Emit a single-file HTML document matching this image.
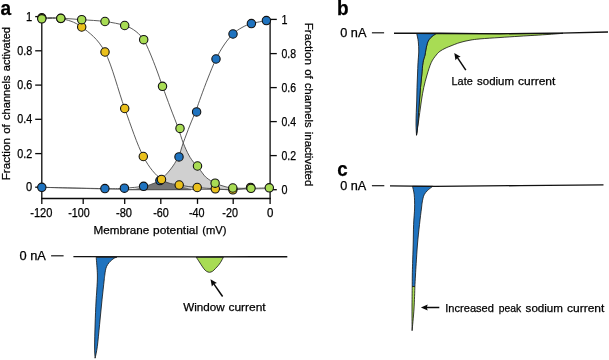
<!DOCTYPE html>
<html><head><meta charset="utf-8"><title>Figure</title>
<style>html,body{margin:0;padding:0;background:#fff}body{width:609px;height:360px;position:relative;overflow:hidden}</style></head>
<body>
<svg width="609" height="360" viewBox="0 0 609 360" style="position:absolute;left:0;top:0">
<rect width="609" height="360" fill="#fff"/>
<path d="M152.00,184.00 C153.32,183.37 156.90,182.53 159.90,180.20 C162.90,177.87 166.93,173.87 170.00,170.00 C173.07,166.13 176.10,161.50 178.30,157.00 C180.50,152.50 182.38,145.33 183.20,143.00 L183.20,143.00  C184.12,145.00 186.99,151.75 188.75,155.00 C190.51,158.25 192.29,160.58 193.75,162.50 C195.21,164.42 196.36,165.15 197.50,166.50 C198.64,167.85 199.14,168.77 200.60,170.60 C202.06,172.43 203.85,175.42 206.25,177.50 C208.65,179.58 212.04,181.63 215.00,183.10 C217.96,184.57 221.33,185.38 224.00,186.30 C226.67,187.22 229.83,188.22 231.00,188.60 L231,189.6 L152,189.6 Z" fill="#d0d0d0"/>
<path d="M128.00,189.40 C129.67,189.20 135.00,188.72 138.00,188.20 C141.00,187.68 143.33,187.12 146.00,186.30 C148.67,185.48 151.37,184.32 154.00,183.30 C156.63,182.28 159.13,180.22 161.80,180.20 C164.47,180.18 166.97,182.20 170.00,183.20 C173.03,184.20 176.50,185.27 180.00,186.20 C183.50,187.13 189.17,188.37 191.00,188.80 L191,190.2 L128,190.2 Z" fill="#767676"/>
<path d="M41.80,17.80 C44.97,17.92 54.15,16.97 60.80,18.50 C67.45,20.03 74.33,21.42 81.70,27.00 C89.07,32.58 97.83,38.42 105.00,52.00 C112.17,65.58 118.32,91.08 124.70,108.50 C131.08,125.92 137.17,144.67 143.30,156.50 C149.43,168.33 155.52,174.75 161.50,179.50 C167.48,184.25 173.25,183.67 179.20,185.00 C185.15,186.33 191.18,186.87 197.20,187.50 C203.22,188.13 209.35,188.42 215.30,188.80 C221.25,189.18 227.02,190.03 232.90,189.80 C238.78,189.57 247.65,187.80 250.60,187.40" fill="none" stroke="#4a4a4a" stroke-width="0.9"/>
<path d="M41.80,18.80 C44.97,18.72 54.15,18.15 60.80,18.30 C67.45,18.45 74.33,19.17 81.70,19.70 C89.07,20.23 97.83,20.53 105.00,21.50 C112.17,22.47 119.53,23.83 124.70,25.50 C129.87,27.17 132.83,29.08 136.00,31.50 C139.17,33.92 141.37,36.42 143.70,40.00 C146.03,43.58 147.83,48.00 150.00,53.00 C152.17,58.00 154.62,64.45 156.70,70.00 C158.78,75.55 160.20,79.97 162.50,86.30 C164.80,92.63 167.92,101.13 170.50,108.00 C173.08,114.87 175.88,121.68 178.00,127.50 C180.12,133.32 181.41,138.32 183.20,142.90 C184.99,147.48 186.99,151.73 188.75,155.00 C190.51,158.27 192.29,160.58 193.75,162.50 C195.21,164.42 196.36,165.15 197.50,166.50 C198.64,167.85 199.14,168.77 200.60,170.60 C202.06,172.43 203.85,175.42 206.25,177.50 C208.65,179.58 212.04,181.63 215.00,183.10 C217.96,184.57 221.03,185.48 224.00,186.30 C226.97,187.12 228.30,187.67 232.80,188.00 C237.30,188.33 244.92,188.33 251.00,188.30 C257.08,188.27 266.25,187.88 269.30,187.80" fill="none" stroke="#4a4a4a" stroke-width="0.9"/>
<path d="M41.80,187.30 C52.32,187.52 91.13,188.45 104.90,188.60 C118.67,188.75 117.95,188.58 124.40,188.20 C130.85,187.82 139.00,187.00 143.60,186.30 C148.20,185.60 149.28,185.02 152.00,184.00 C154.72,182.98 156.90,182.53 159.90,180.20 C162.90,177.87 166.93,173.87 170.00,170.00 C173.07,166.13 176.10,161.50 178.30,157.00 C180.50,152.50 181.25,148.33 183.20,143.00 C185.15,137.67 187.87,130.42 190.00,125.00 C192.13,119.58 194.17,115.25 196.00,110.50 C197.83,105.75 199.00,101.92 201.00,96.50 C203.00,91.08 205.50,84.25 208.00,78.00 C210.50,71.75 213.33,64.50 216.00,59.00 C218.67,53.50 221.17,49.17 224.00,45.00 C226.83,40.83 230.00,36.92 233.00,34.00 C236.00,31.08 238.93,29.23 242.00,27.50 C245.07,25.77 247.33,24.75 251.40,23.60 C255.47,22.45 263.90,21.10 266.40,20.60" fill="none" stroke="#4a4a4a" stroke-width="0.9"/>
<path d="M41.8,187.3 L128,189.6 L232,189.4 L269,188.6" fill="none" stroke="#4a4a4a" stroke-width="0.7"/>
<g stroke="#0a0a0a" stroke-width="1.3" fill="none">
<path d="M41.8,16 V203.9"/>
<path d="M41.2,198.5 H270.8"/>
<path d="M270.1,19 V203.9"/>
<path d="M83.2,198.5 V203.9"/>
<path d="M124.7,198.5 V203.9"/>
<path d="M160.8,198.5 V203.9"/>
<path d="M197.5,198.5 V203.9"/>
<path d="M233.2,198.5 V203.9"/>
<path d="M35.2,16.6 H41.8"/>
<path d="M35.2,50.8 H41.8"/>
<path d="M35.2,85.1 H41.8"/>
<path d="M35.2,119.3 H41.8"/>
<path d="M35.2,153.6 H41.8"/>
<path d="M35.2,187.2 H41.8"/>
<path d="M270.1,19.4 H276.8"/>
<path d="M270.1,53.6 H276.8"/>
<path d="M270.1,87.6 H276.8"/>
<path d="M270.1,121.6 H276.8"/>
<path d="M270.1,155.6 H276.8"/>
<path d="M270.1,189.7 H276.8"/>
</g>
<circle cx="41.8" cy="187.3" r="4.2" fill="#1f73bf" stroke="#111" stroke-width="1.1"/>
<circle cx="104.9" cy="188.6" r="4.2" fill="#1f73bf" stroke="#111" stroke-width="1.1"/>
<circle cx="124.4" cy="188.2" r="4.2" fill="#1f73bf" stroke="#111" stroke-width="1.1"/>
<circle cx="143.6" cy="186.3" r="4.2" fill="#1f73bf" stroke="#111" stroke-width="1.1"/>
<circle cx="159.9" cy="180.6" r="4.2" fill="#1f73bf" stroke="#111" stroke-width="1.1"/>
<circle cx="179.0" cy="156.9" r="4.2" fill="#1f73bf" stroke="#111" stroke-width="1.1"/>
<circle cx="196.6" cy="111.9" r="4.2" fill="#1f73bf" stroke="#111" stroke-width="1.1"/>
<circle cx="216.0" cy="59.0" r="4.2" fill="#1f73bf" stroke="#111" stroke-width="1.1"/>
<circle cx="233.0" cy="34.0" r="4.2" fill="#1f73bf" stroke="#111" stroke-width="1.1"/>
<circle cx="251.4" cy="23.6" r="4.2" fill="#1f73bf" stroke="#111" stroke-width="1.1"/>
<circle cx="266.4" cy="20.6" r="4.2" fill="#1f73bf" stroke="#111" stroke-width="1.1"/>
<circle cx="41.8" cy="17.8" r="4.2" fill="#eac01c" stroke="#111" stroke-width="1.1"/>
<circle cx="60.8" cy="18.5" r="4.2" fill="#eac01c" stroke="#111" stroke-width="1.1"/>
<circle cx="81.7" cy="27.0" r="4.2" fill="#eac01c" stroke="#111" stroke-width="1.1"/>
<circle cx="105.0" cy="52.0" r="4.2" fill="#eac01c" stroke="#111" stroke-width="1.1"/>
<circle cx="124.7" cy="108.5" r="4.2" fill="#eac01c" stroke="#111" stroke-width="1.1"/>
<circle cx="143.3" cy="156.5" r="4.2" fill="#eac01c" stroke="#111" stroke-width="1.1"/>
<circle cx="161.5" cy="179.5" r="4.2" fill="#eac01c" stroke="#111" stroke-width="1.1"/>
<circle cx="179.2" cy="185.0" r="4.2" fill="#eac01c" stroke="#111" stroke-width="1.1"/>
<circle cx="197.2" cy="187.5" r="4.2" fill="#eac01c" stroke="#111" stroke-width="1.1"/>
<circle cx="215.3" cy="188.8" r="4.2" fill="#eac01c" stroke="#111" stroke-width="1.1"/>
<circle cx="232.9" cy="189.8" r="4.2" fill="#eac01c" stroke="#111" stroke-width="1.1"/>
<circle cx="250.6" cy="187.4" r="4.2" fill="#eac01c" stroke="#111" stroke-width="1.1"/>
<circle cx="41.8" cy="18.8" r="4.2" fill="#a8dc54" stroke="#111" stroke-width="1.1"/>
<circle cx="60.8" cy="18.3" r="4.2" fill="#a8dc54" stroke="#111" stroke-width="1.1"/>
<circle cx="81.7" cy="19.7" r="4.2" fill="#a8dc54" stroke="#111" stroke-width="1.1"/>
<circle cx="105.0" cy="21.5" r="4.2" fill="#a8dc54" stroke="#111" stroke-width="1.1"/>
<circle cx="124.7" cy="25.5" r="4.2" fill="#a8dc54" stroke="#111" stroke-width="1.1"/>
<circle cx="143.7" cy="39.7" r="4.2" fill="#a8dc54" stroke="#111" stroke-width="1.1"/>
<circle cx="162.5" cy="86.3" r="4.2" fill="#a8dc54" stroke="#111" stroke-width="1.1"/>
<circle cx="180.0" cy="128.4" r="4.2" fill="#a8dc54" stroke="#111" stroke-width="1.1"/>
<circle cx="197.5" cy="166.0" r="4.2" fill="#a8dc54" stroke="#111" stroke-width="1.1"/>
<circle cx="215.1" cy="183.2" r="4.2" fill="#a8dc54" stroke="#111" stroke-width="1.1"/>
<circle cx="232.8" cy="188.0" r="4.2" fill="#a8dc54" stroke="#111" stroke-width="1.1"/>
<circle cx="251.0" cy="188.3" r="4.2" fill="#a8dc54" stroke="#111" stroke-width="1.1"/>
<circle cx="269.3" cy="187.8" r="4.2" fill="#a8dc54" stroke="#111" stroke-width="1.1"/>
<g font-family="'Liberation Sans', sans-serif" fill="#000" stroke="#000" stroke-width="0.25">
<text x="0.6" y="15" font-size="20" font-weight="bold" textLength="10.6" lengthAdjust="spacingAndGlyphs">a</text>
<text x="337" y="14.8" font-size="20" font-weight="bold" textLength="11.6" lengthAdjust="spacingAndGlyphs">b</text>
<text x="337.2" y="175.9" font-size="20" font-weight="bold" textLength="10.4" lengthAdjust="spacingAndGlyphs">c</text>
<text x="26.0" y="20.7" font-size="12" textLength="6.2" lengthAdjust="spacingAndGlyphs">1</text>
<text x="17.2" y="54.9" font-size="12" textLength="15.0" lengthAdjust="spacingAndGlyphs">0.8</text>
<text x="17.2" y="89.2" font-size="12" textLength="15.0" lengthAdjust="spacingAndGlyphs">0.6</text>
<text x="17.2" y="123.4" font-size="12" textLength="15.0" lengthAdjust="spacingAndGlyphs">0.4</text>
<text x="17.2" y="157.7" font-size="12" textLength="15.0" lengthAdjust="spacingAndGlyphs">0.2</text>
<text x="26.0" y="191.3" font-size="12" textLength="6.2" lengthAdjust="spacingAndGlyphs">0</text>
<text x="281.4" y="23.5" font-size="12" textLength="6.0" lengthAdjust="spacingAndGlyphs">1</text>
<text x="281.4" y="57.7" font-size="12" textLength="14.6" lengthAdjust="spacingAndGlyphs">0.8</text>
<text x="281.4" y="91.7" font-size="12" textLength="14.6" lengthAdjust="spacingAndGlyphs">0.6</text>
<text x="281.4" y="125.7" font-size="12" textLength="14.6" lengthAdjust="spacingAndGlyphs">0.4</text>
<text x="281.4" y="159.7" font-size="12" textLength="14.6" lengthAdjust="spacingAndGlyphs">0.2</text>
<text x="281.4" y="193.8" font-size="12" textLength="6.0" lengthAdjust="spacingAndGlyphs">0</text>
<text x="30.2" y="216.8" font-size="12" textLength="22.2" lengthAdjust="spacingAndGlyphs">-120</text>
<text x="68.2" y="216.8" font-size="12" textLength="21.4" lengthAdjust="spacingAndGlyphs">-100</text>
<text x="116.0" y="216.8" font-size="12" textLength="16.0" lengthAdjust="spacingAndGlyphs">-80</text>
<text x="153.2" y="216.8" font-size="12" textLength="15.6" lengthAdjust="spacingAndGlyphs">-60</text>
<text x="188.9" y="216.8" font-size="12" textLength="15.6" lengthAdjust="spacingAndGlyphs">-40</text>
<text x="222.3" y="216.8" font-size="12" textLength="15.6" lengthAdjust="spacingAndGlyphs">-20</text>
<text x="267.0" y="216.8" font-size="12" textLength="6.4" lengthAdjust="spacingAndGlyphs">0</text>
<text x="93.4" y="234.4" font-size="11.8" textLength="55.9" lengthAdjust="spacingAndGlyphs">Membrane</text><text x="153.0" y="234.4" font-size="11.8" textLength="45.1" lengthAdjust="spacingAndGlyphs">potential</text><text x="202.3" y="234.4" font-size="11.8" textLength="24.3" lengthAdjust="spacingAndGlyphs">(mV)</text>
<g transform="translate(9.5,180) rotate(-90)"><text x="-0.3" y="0.0" font-size="11.7" textLength="42.3" lengthAdjust="spacingAndGlyphs">Fraction</text><text x="46.2" y="0.0" font-size="11.7" textLength="9.5" lengthAdjust="spacingAndGlyphs">of</text><text x="60.0" y="0.0" font-size="11.7" textLength="44.5" lengthAdjust="spacingAndGlyphs">channels</text><text x="108.8" y="0.0" font-size="11.7" textLength="44.2" lengthAdjust="spacingAndGlyphs">activated</text></g>
<g transform="translate(304.5,23) rotate(90)"><text x="-0.3" y="0.0" font-size="11.7" textLength="42.3" lengthAdjust="spacingAndGlyphs">Fraction</text><text x="46.2" y="0.0" font-size="11.7" textLength="9.5" lengthAdjust="spacingAndGlyphs">of</text><text x="60.0" y="0.0" font-size="11.7" textLength="44.5" lengthAdjust="spacingAndGlyphs">channels</text><text x="108.8" y="0.0" font-size="11.7" textLength="54.5" lengthAdjust="spacingAndGlyphs">inactivated</text></g>
<text x="19.5" y="260.1" font-size="12.5" textLength="26.4" lengthAdjust="spacingAndGlyphs">0 nA</text>
<text x="340.2" y="36.9" font-size="12.5" textLength="26.2" lengthAdjust="spacingAndGlyphs">0 nA</text>
<text x="340.2" y="190.3" font-size="12.5" textLength="26.1" lengthAdjust="spacingAndGlyphs">0 nA</text>
<text x="183.2" y="310.6" font-size="11.7" textLength="41.4" lengthAdjust="spacingAndGlyphs">Window</text><text x="228.4" y="310.6" font-size="11.7" textLength="37.3" lengthAdjust="spacingAndGlyphs">current</text>
<text x="451.6" y="85.4" font-size="11.7" textLength="21.1" lengthAdjust="spacingAndGlyphs">Late</text><text x="477.1" y="85.4" font-size="11.7" textLength="36.9" lengthAdjust="spacingAndGlyphs">sodium</text><text x="518.0" y="85.4" font-size="11.7" textLength="37.4" lengthAdjust="spacingAndGlyphs">current</text>
<text x="445.3" y="312.1" font-size="11.7" textLength="48.6" lengthAdjust="spacingAndGlyphs">Increased</text><text x="498.8" y="312.1" font-size="11.7" textLength="22.4" lengthAdjust="spacingAndGlyphs">peak</text><text x="525.6" y="312.1" font-size="11.7" textLength="37.4" lengthAdjust="spacingAndGlyphs">sodium</text><text x="567.0" y="312.1" font-size="11.7" textLength="37.4" lengthAdjust="spacingAndGlyphs">current</text>
</g>
<g stroke="#1a1a1a" stroke-width="1.2" fill="none">
<path d="M51.1,255.8 H63.6"/>
<path d="M371.9,32.8 H384.1"/>
<path d="M371.9,185.7 H384.3"/>
</g>
<path d="M96.20,257.30 C96.40,260.25 97.30,269.55 97.40,275.00 C97.50,280.45 97.03,285.50 96.80,290.00 C96.57,294.50 96.28,296.33 96.00,302.00 C95.72,307.67 95.33,316.50 95.10,324.00 C94.87,331.50 94.60,341.30 94.60,347.00 C94.60,352.70 95.02,356.33 95.10,358.20 C95.47,356.28 96.55,352.33 97.30,346.70 C98.05,341.07 98.85,331.85 99.60,324.40 C100.35,316.95 101.03,309.40 101.80,302.00 C102.57,294.60 103.70,284.50 104.20,280.00 C104.70,275.50 104.60,276.53 104.80,275.00 C105.00,273.47 105.12,272.18 105.40,270.80 C105.68,269.42 105.87,268.08 106.50,266.70 C107.13,265.32 107.95,263.90 109.20,262.50 C110.45,261.10 112.73,259.17 114.00,258.30 C115.27,257.43 116.33,257.47 116.80,257.30 Z" fill="#1f73bf" stroke="#111" stroke-width="0.8" stroke-linejoin="round"/>
<path d="M196.20,257.20 C196.60,257.80 197.77,259.53 198.60,260.80 C199.43,262.07 200.32,263.47 201.20,264.80 C202.08,266.13 203.02,267.72 203.90,268.80 C204.78,269.88 205.57,270.72 206.50,271.30 C207.43,271.88 208.50,272.30 209.50,272.30 C210.50,272.30 211.55,271.88 212.50,271.30 C213.45,270.72 214.28,269.72 215.20,268.80 C216.12,267.88 217.10,266.88 218.00,265.80 C218.90,264.72 219.70,263.73 220.60,262.30 C221.50,260.87 222.93,258.05 223.40,257.20 Z" fill="#a8dc54" stroke="#111" stroke-width="0.8" stroke-linejoin="round"/>
<path d="M73.4,256.6 L200,256.9 L287.3,256.7" stroke="#111" stroke-width="1.35" fill="none"/>
<path d="M416.50,135.20 C416.75,133.50 417.46,128.78 418.00,125.00 C418.54,121.22 419.17,116.67 419.75,112.50 C420.33,108.33 420.83,104.17 421.50,100.00 C422.17,95.83 422.83,91.67 423.75,87.50 C424.67,83.33 425.75,79.17 427.00,75.00 C428.25,70.83 429.71,65.83 431.25,62.50 C432.79,59.17 434.79,56.88 436.25,55.00 C437.71,53.12 438.54,52.35 440.00,51.25 C441.46,50.15 443.33,49.23 445.00,48.40 C446.67,47.57 447.50,47.23 450.00,46.25 C452.50,45.27 456.67,43.51 460.00,42.50 C463.33,41.49 466.67,40.80 470.00,40.20 C473.33,39.60 475.00,39.35 480.00,38.90 C485.00,38.45 493.33,37.95 500.00,37.50 C506.67,37.05 511.83,36.72 520.00,36.20 C528.17,35.68 541.83,34.88 549.00,34.40 C556.17,33.92 560.67,33.48 563.00,33.30 L435.8,33.8 C434.97,34.42 432.12,36.18 430.80,37.50 C429.48,38.82 428.58,40.32 427.90,41.70 C427.22,43.08 427.05,44.42 426.70,45.80 C426.35,47.18 426.08,48.47 425.80,50.00 C425.52,51.53 425.47,52.92 425.00,55.00 C424.53,57.08 423.54,59.17 423.00,62.50 C422.46,65.83 422.17,70.83 421.75,75.00 C421.33,79.17 420.88,83.33 420.50,87.50 C420.12,91.67 419.83,95.83 419.50,100.00 C419.17,104.17 418.80,108.33 418.50,112.50 C418.20,116.67 418.03,121.22 417.70,125.00 C417.37,128.78 416.70,133.50 416.50,135.20 Z" fill="#a8dc54" stroke="#111" stroke-width="0.8" stroke-linejoin="round"/>
<path d="M416.70,33.50 C416.97,34.87 417.96,38.62 418.30,41.70 C418.64,44.78 418.80,48.53 418.75,52.00 C418.70,55.47 418.21,58.67 418.00,62.50 C417.79,66.33 417.67,70.83 417.50,75.00 C417.33,79.17 417.12,83.33 417.00,87.50 C416.88,91.67 416.88,95.83 416.75,100.00 C416.62,104.17 416.38,108.33 416.25,112.50 C416.12,116.67 415.96,121.22 416.00,125.00 C416.04,128.78 416.42,133.50 416.50,135.20 C416.70,133.50 417.37,128.78 417.70,125.00 C418.03,121.22 418.20,116.67 418.50,112.50 C418.80,108.33 419.17,104.17 419.50,100.00 C419.83,95.83 420.12,91.67 420.50,87.50 C420.88,83.33 421.33,79.17 421.75,75.00 C422.17,70.83 422.46,65.83 423.00,62.50 C423.54,59.17 424.53,57.08 425.00,55.00 C425.47,52.92 425.52,51.53 425.80,50.00 C426.08,48.47 426.35,47.18 426.70,45.80 C427.05,44.42 427.22,43.08 427.90,41.70 C428.58,40.32 429.48,38.82 430.80,37.50 C432.12,36.18 434.97,34.42 435.80,33.80 Z" fill="#1f73bf" stroke="#111" stroke-width="0.8" stroke-linejoin="round"/>
<path d="M394,33.2 L440,33.2 L500,33.8 L560,33.1 L608,32" stroke="#111" stroke-width="1.35" fill="none" stroke-linejoin="round"/>
<path d="M412.50,186.30 C412.78,187.70 413.85,191.08 414.20,194.70 C414.55,198.32 414.70,203.03 414.60,208.00 C414.50,212.97 413.83,218.50 413.60,224.50 C413.37,230.50 413.37,237.52 413.20,244.00 C413.03,250.48 412.75,258.23 412.60,263.40 C412.45,268.57 412.37,271.15 412.30,275.00 C412.23,278.85 412.22,284.58 412.20,286.50 L414.9,286.5 C415.00,284.58 415.28,278.85 415.50,275.00 C415.72,271.15 415.87,268.57 416.20,263.40 C416.53,258.23 416.95,250.48 417.50,244.00 C418.05,237.52 418.83,230.50 419.50,224.50 C420.17,218.50 421.07,211.58 421.50,208.00 C421.93,204.42 421.87,204.53 422.10,203.00 C422.33,201.47 422.55,200.18 422.90,198.80 C423.25,197.42 423.43,196.08 424.20,194.70 C424.97,193.32 426.07,191.90 427.50,190.50 C428.93,189.10 431.92,187.00 432.80,186.30 Z" fill="#1f73bf" stroke="#111" stroke-width="0.8" stroke-linejoin="round"/>
<path d="M412.20,286.50 C412.17,290.25 412.02,301.63 412.00,309.00 C411.98,316.37 412.08,327.08 412.10,330.70 C412.42,327.08 413.53,316.37 414.00,309.00 C414.47,301.63 414.75,290.25 414.90,286.50 Z" fill="#a8dc54" stroke="#111" stroke-width="0.8" stroke-linejoin="round"/>
<path d="M390,185.9 L435,186.4 L520,185.6 L603.5,184.8" stroke="#111" stroke-width="1.35" fill="none" stroke-linejoin="round"/>
<path d="M222.60,296.50 L213.25,283.13" stroke="#0a0a0a" stroke-width="1.5" fill="none"/>
<path d="M210.50,279.20 L216.94,283.00 L213.88,284.03 L211.86,286.55 Z" fill="#0a0a0a"/>
<path d="M465.80,70.20 L456.96,56.90" stroke="#0a0a0a" stroke-width="1.5" fill="none"/>
<path d="M454.30,52.90 L460.65,56.85 L457.57,57.81 L455.48,60.28 Z" fill="#0a0a0a"/>
<path d="M439.30,307.50 L425.70,307.50" stroke="#0a0a0a" stroke-width="1.5" fill="none"/>
<path d="M420.90,307.50 L427.70,304.40 L426.80,307.50 L427.70,310.60 Z" fill="#0a0a0a"/>
</svg>
</body></html>
